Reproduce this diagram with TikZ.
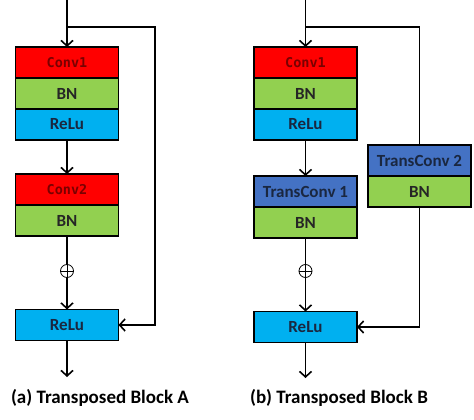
\documentclass[tikz,border=0pt]{standalone}
\usepackage{fontspec}
\setmainfont{Carlito}
\setmonofont{DejaVu Sans Mono}
\usetikzlibrary{positioning, arrows.meta}

\definecolor{convred}{HTML}{FF0000}
\definecolor{convtext}{HTML}{7A0000}
\definecolor{bngreen}{HTML}{92D050}
\definecolor{relublue}{HTML}{00B0F0}
\definecolor{tcblue}{HTML}{4472C4}
\definecolor{textnavy}{HTML}{1A2740}

\begin{document}
\begin{tikzpicture}[x=1pt, y=-1pt, node distance=0pt,
	blk/.style={draw, line width=1.6pt, minimum width=103pt, minimum height=31pt, outer sep=0pt, inner sep=0pt, font=\bfseries\fontsize{17}{17}\selectfont},
	conv/.style={blk, fill=convred, text=convtext, font=\ttfamily\bfseries\fontsize{13.5}{13.5}\selectfont},
	bn/.style={blk, fill=bngreen, text=black!85},
	relu/.style={blk, fill=relublue, text=textnavy},
	tconv/.style={blk, fill=tcblue, text=textnavy},
	plus/.style={circle, draw, line width=0.8pt, minimum size=13pt, inner sep=0pt},
	line/.style={line width=1.6pt},
	flow/.style={line, -{Straight Barb[length=5.5pt, width=12pt, line width=1.6pt]}},
	caption/.style={font=\bfseries\fontsize{19}{19}\selectfont}]
	\useasboundingbox (0,0) rectangle (474,420);

	% (a) Transposed Block A
	\node[conv] (a-conv1) at (67,62.5) {Conv1};
	\node[bn, below=of a-conv1] (a-bn1) {BN};
	\node[relu, below=of a-bn1] (a-relu1) {ReLu};
	\node[conv, below=34pt of a-relu1] (a-conv2) {Conv2};
	\node[bn, below=of a-conv2] (a-bn2) {BN};
	\node[plus] (a-plus) at (67,271) {};
	\draw[line width=0.8pt] (a-plus.north) -- (a-plus.south) (a-plus.west) -- (a-plus.east);
	\node[relu] (a-relu2) at (67,325) {ReLu};
	\coordinate (a-in) at (67,0);
	\coordinate (a-split) at (67,27);
	\coordinate (a-turn) at (155,27);
	\coordinate (a-out) at (67,377);
	\draw[flow] (a-in) -- (a-conv1);
	\draw[flow] (a-split) -- (a-turn) |- (a-relu2.east);
	\draw[flow] (a-relu1) -- (a-conv2);
	\draw[line] (a-bn2) -- (a-plus);
	\draw[flow] (a-plus) -- (a-relu2);
	\draw[flow] (a-relu2) -- (a-out);
	\node[caption] (a-cap) at (100,398) {(a) Transposed Block A};

	% (b) Transposed Block B
	\node[conv] (b-conv1) at (305.5,62.5) {Conv1};
	\node[bn, below=of b-conv1] (b-bn1) {BN};
	\node[relu, below=of b-bn1] (b-relu1) {ReLu};
	\node[tconv, below=36pt of b-relu1] (b-tconv1) {TransConv 1};
	\node[bn, below=of b-tconv1] (b-bn2) {BN};
	\node[tconv] (b-tconv2) at (419.5,160.5) {TransConv 2};
	\node[bn, below=of b-tconv2] (b-bn3) {BN};
	\node[plus] (b-plus) at (305.5,271) {};
	\draw[line width=0.8pt] (b-plus.north) -- (b-plus.south) (b-plus.west) -- (b-plus.east);
	\node[relu] (b-relu2) at (305.5,327) {ReLu};
	\coordinate (b-in) at (305.5,0);
	\coordinate (b-split) at (305.5,27);
	\coordinate (b-turn) at (419.5,27);
	\coordinate (b-out) at (305.5,378);
	\draw[flow] (b-in) -- (b-conv1);
	\draw[line] (b-split) -- (b-turn) -- (b-tconv2);
	\draw[flow] (b-bn3) |- (b-relu2.east);
	\draw[flow] (b-relu1) -- (b-tconv1);
	\draw[line] (b-bn2) -- (b-plus);
	\draw[flow] (b-plus) -- (b-relu2);
	\draw[flow] (b-relu2) -- (b-out);
	\node[caption] (b-cap) at (339,398) {(b) Transposed Block B};
\end{tikzpicture}
\end{document}
